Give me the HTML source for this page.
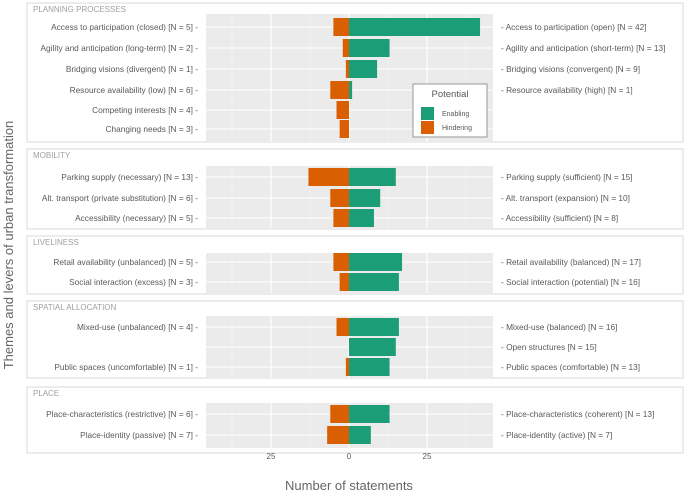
<!DOCTYPE html>
<html><head><meta charset="utf-8">
<style>
body{margin:0;background:#fff;}
svg{display:block;font-family:"Liberation Sans",sans-serif;}
</style></head>
<body>
<svg id="chart" width="685" height="491" viewBox="0 0 685 491"></svg>
<script>
const panels = ["PLANNING  PROCESSES","MOBILITY","LIVELINESS","SPATIAL ALLOCATION","PLACE"];
const leftLabels = [
 ["Access to participation (closed) [N = 5] -","Agility and anticipation  (long-term) [N = 2] -","Bridging visions (divergent) [N = 1] -","Resource availability  (low) [N = 6] -","Competing  interests [N = 4] -","Changing needs [N = 3] -"],
 ["Parking supply (necessary) [N = 13] -","Alt. transport (private substitution) [N = 6] -","Accessibility (necessary) [N = 5] -"],
 ["Retail availability (unbalanced) [N = 5] -","Social interaction (excess) [N = 3] -"],
 ["Mixed-use (unbalanced) [N = 4] -","","Public spaces (uncomfortable) [N = 1] -"],
 ["Place-characteristics (restrictive) [N = 6] -","Place-identity (passive) [N = 7] -"]
];
const rightLabels = [
 ["- Access to participation (open) [N = 42]","- Agility and anticipation  (short-term) [N = 13]","- Bridging visions (convergent) [N = 9]","- Resource availability  (high) [N = 1]","",""],
 ["- Parking supply (sufficient) [N = 15]","- Alt. transport (expansion) [N = 10]","- Accessibility (sufficient) [N = 8]"],
 ["- Retail availability (balanced) [N = 17]","- Social interaction (potential) [N = 16]"],
 ["- Mixed-use (balanced) [N = 16]","- Open structures [N = 15]","- Public spaces (comfortable) [N = 13]"],
 ["- Place-characteristics (coherent) [N = 13]","- Place-identity (active) [N = 7]"]
];
const hindering = [[5,2,1,6,4,3],[13,6,5],[5,3],[4,0,1],[6,7]];
const enabling = [[42,13,9,1,0,0],[15,10,8],[17,16],[16,15,13],[13,7]];
const tickValues = [-25,0,25];
const tickLabels = ["25","0","25"];

// layout (not data)
const boxes = [[3,142,14,142,[27,48,69,90,110,129]],[149,229,166,228,[177,198,218]],[236,294,253,293,[262,282]],[301,378,316,378,[327,347,367]],[387,453,403,448,[414,435]]];
const X0=206,X1=493;
function x(v){return 349+v*3.12;}
const svg=document.getElementById('chart');
const NS='http://www.w3.org/2000/svg';
function el(tag,attrs,parent){const e=document.createElementNS(NS,tag);for(const k in attrs)e.setAttribute(k,attrs[k]);(parent||svg).appendChild(e);return e;}

panels.forEach((p,pi)=>{
  const [bt,bb,gt,gb,rows]=boxes[pi];
  const g=el('g',{});
  
  
  const box=el('rect',{x:27,y:bt,width:656,height:bb-bt,fill:'#fff',stroke:'#e6e6e6','stroke-width':1.5},g);
  
  
  const h=el('text',{x:33,y:bt+9,'font-size':8,fill:'#a0a0a0'},g);
  h.textContent=p;
  
  
  const bg=el('rect',{x:X0,y:gt,width:X1-X0,height:gb-gt,fill:'#ebebeb'},g);
  
  
  [-37.5,-12.5,12.5,37.5].forEach(v=>{el('line',{x1:x(v),x2:x(v),y1:gt,y2:gb,stroke:'#f7f7f7','stroke-width':0.6},g);});
  tickValues.forEach(v=>{el('line',{x1:x(v),x2:x(v),y1:gt,y2:gb,stroke:'#fff','stroke-width':1.1},g);});
  rows.forEach(y=>{el('line',{x1:X0,x2:X1,y1:y,y2:y,stroke:'#fff','stroke-width':1.1},g);});
  rows.forEach((y,ri)=>{
    const hv=hindering[pi][ri], ev=enabling[pi][ri];
    if(hv>0){const r=el('rect',{x:x(-hv),y:y-9,width:x(0)-x(-hv),height:18,fill:'#d95f02'},g);
      
      }
    if(ev>0){const r=el('rect',{x:x(0),y:y-9,width:x(ev)-x(0),height:18,fill:'#1b9e77'},g);
      
      }
    if(leftLabels[pi][ri]){const t=el('text',{x:198,y:y+3,'font-size':8.3,fill:'#595959','text-anchor':'end'},g);
      t.textContent=leftLabels[pi][ri];
      
      }
    if(rightLabels[pi][ri]){const t=el('text',{x:501,y:y+3,'font-size':8.3,fill:'#595959'},g);
      t.textContent=rightLabels[pi][ri];
      
      }
  });
});
tickValues.forEach((v,i)=>{const t=el('text',{x:x(v),y:459,'font-size':8,fill:'#595959','text-anchor':'middle'});
  t.textContent=tickLabels[i];
  
  });
const xt=el('text',{x:349,y:490,'font-size':13,fill:'#666','text-anchor':'middle'});
xt.textContent='Number of statements';


const yt=el('text',{x:13,y:245,'font-size':13,fill:'#666','text-anchor':'middle',transform:'rotate(-90 13 245)'});
yt.textContent='Themes and levers of urban transformation';


// legend
const lg=el('g',{});


el('rect',{x:413,y:84,width:74,height:53,fill:'#fff',stroke:'#7f7f7f','stroke-width':0.8},lg);
const lt=el('text',{x:450,y:97,'font-size':9.5,fill:'#595959','text-anchor':'middle'},lg);
lt.textContent='Potential';


[['Enabling','#1b9e77',107],['Hindering','#d95f02',121]].forEach(([n,c,y])=>{
  const k=el('rect',{x:421,y:y,width:13,height:13,fill:c},lg);
  
  
  const t=el('text',{x:442,y:y+9,'font-size':7,fill:'#595959'},lg);
  t.textContent=n;
  
  
});
</script>
</body></html>
